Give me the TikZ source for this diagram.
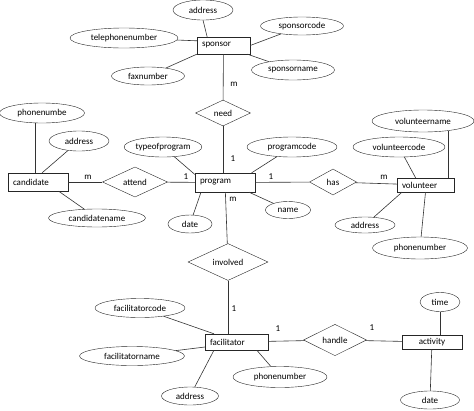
\documentclass[tikz,border=0pt]{standalone}
\usepackage{fontspec}
\setmainfont{Carlito}
\usetikzlibrary{shapes.geometric}

\begin{document}
\begin{tikzpicture}[x=1pt,y=-1pt]
\tikzstyle{entity}=[draw=black!85,rectangle,inner xsep=5pt,inner ysep=0pt,align=left,font=\fontsize{9}{10}\selectfont]
\tikzstyle{attr}=[draw=black!85,ellipse,inner sep=0pt,font=\fontsize{9}{10}\selectfont]
\tikzstyle{rel}=[draw=black!85,diamond,inner sep=0pt,font=\fontsize{9}{10}\selectfont]
\tikzstyle{card}=[inner sep=1pt,font=\fontsize{9}{10}\selectfont]
\tikzstyle{link}=[draw=black!80,line width=0.6pt]
\useasboundingbox (0,0) rectangle (474,410);

% entities
\node[entity,text width=43pt,minimum height=17pt] (spon) at (223.5,45.5) {sponsor};
\node[entity,text width=50pt,minimum height=19pt] (prog) at (225,182.5) {program};
\node[entity,text width=50pt,minimum height=18pt] (cand) at (38,182) {candidate};
\node[entity,text width=47pt,minimum height=14pt] (vol) at (425.5,185) {volunteer};
\node[entity,text width=53pt,minimum height=16pt] (fac) at (236.5,342) {facilitator};
\node[entity,text width=50pt,minimum height=14pt,align=center] (act) at (432,342) {activity};

% relationships
\node[rel,minimum width=55pt,minimum height=26pt] (need) at (223,113) {need};
\node[rel,minimum width=65pt,minimum height=26pt] (attend) at (135,182) {attend};
\node[rel,minimum width=47pt,minimum height=26pt] (has) at (333,182) {has};
\node[rel,minimum width=80pt,minimum height=32pt] (inv) at (228,262) {involved};
\node[rel,minimum width=63pt,minimum height=31pt] (handle) at (335,340) {handle};

% attributes of sponsor
\node[attr,minimum width=60pt,minimum height=20pt] (sadr) at (203,10) {address};
\node[attr,minimum width=108pt,minimum height=20pt] (stel) at (124,38) {telephonenumber};
\node[attr,minimum width=83pt,minimum height=18pt] (scode) at (302,26) {sponsorcode};
\node[attr,minimum width=73pt,minimum height=18pt] (sfax) at (148,76) {faxnumber};
\node[attr,minimum width=83pt,minimum height=20pt] (sname) at (293,70) {sponsorname};

% attributes of program
\node[attr,minimum width=73pt,minimum height=20pt] (ptype) at (163,147) {typeofprogram};
\node[attr,minimum width=90pt,minimum height=20pt] (pcode) at (292,147) {programcode};
\node[attr,minimum width=44pt,minimum height=18pt] (pdate) at (190,224) {date};
\node[attr,minimum width=45pt,minimum height=17pt] (pname) at (288,210) {name};

% attributes of candidate
\node[attr,minimum width=85pt,minimum height=20pt] (cphone) at (42,113) {phonenumbe};
\node[attr,minimum width=60pt,minimum height=20pt] (cadr) at (79,141) {address};
\node[attr,minimum width=97pt,minimum height=18pt] (cname) at (97,218) {candidatename};

% attributes of volunteer
\node[attr,minimum width=102pt,minimum height=22pt] (vname) at (423,121) {volunteername};
\node[attr,minimum width=92pt,minimum height=20pt] (vcode) at (399,147) {volunteercode};
\node[attr,minimum width=60pt,minimum height=16pt] (vadr) at (365,225) {address};
\node[attr,minimum width=95pt,minimum height=22pt] (vphone) at (420,248) {phonenumber};

% attributes of facilitator
\node[attr,minimum width=90pt,minimum height=19pt] (fcode) at (140,308) {facilitatorcode};
\node[attr,minimum width=105pt,minimum height=19pt] (fname) at (132,356) {facilitatorname};
\node[attr,minimum width=57pt,minimum height=18pt] (fadr) at (190,396) {address};
\node[attr,minimum width=94pt,minimum height=21pt] (fphone) at (280,377) {phonenumber};

% attributes of activity
\node[attr,minimum width=40pt,minimum height=19pt] (atime) at (440,302) {time};
\node[attr,minimum width=59pt,minimum height=18pt] (adate) at (430,400) {date};

% cardinalities
\node[card] (c1) at (234,84) {m};
\node[card] (c2) at (233,159) {1};
\node[card] (c3) at (88,177) {m};
\node[card] (c4) at (186,177) {1};
\node[card] (c5) at (271,177) {1};
\node[card] (c6) at (384,177) {m};
\node[card] (c7) at (233,199) {m};
\node[card] (c8) at (234,309) {1};
\node[card] (c9) at (278,329) {1};
\node[card] (c10) at (372,328) {1};

% relationship lines
\draw[link] (spon) -- (need);
\draw[link] (need.south) -- (need.south |- prog.north);
\draw[link] (cand) -- (attend);
\draw[link] (attend) -- (prog);
\draw[link] (prog) -- (has);
\draw[link] (has) -- (vol);
\draw[link] (prog) -- (inv);
\draw[link] (inv.south) -- (inv.south |- fac.north);
\draw[link] (fac) -- (handle);
\draw[link] (handle) -- (act);

% attribute lines
\draw[link] (spon.152) -- (sadr.south);
\draw[link] (spon.170) -- (stel);
\draw[link] (spon.east) -- (scode);
\draw[link] (spon.south west) -- (sfax);
\draw[link] (spon.340) -- (sname);
\draw[link] (prog.165) -- (ptype);
\draw[link] (prog.20) -- (pcode);
\draw[link] (prog.202) -- (pdate);
\draw[link] (prog.338) -- (pname);
\draw[link] (cand.108) -- (cand.108 |- cphone.south);
\draw[link] (cand.66) -- (cadr);
\draw[link] (cand.336) -- (cname);
\draw[link] (vname.339) -- (vname.339 |- vol.north);
\draw[link] (vol.144) -- (vcode);
\draw[link] (vol.197) -- (vadr);
\draw[link] (vol.south) -- (vphone);
\draw[link] (fac.160) -- (fcode);
\draw[link] (fac.189) -- (fname);
\draw[link] (fac.200) -- (fadr);
\draw[link] (fac.338) -- (fphone);
\draw[link] (atime.south) -- (atime.south |- act.north);
\draw[link] (act) -- (adate);
\end{tikzpicture}
\end{document}
